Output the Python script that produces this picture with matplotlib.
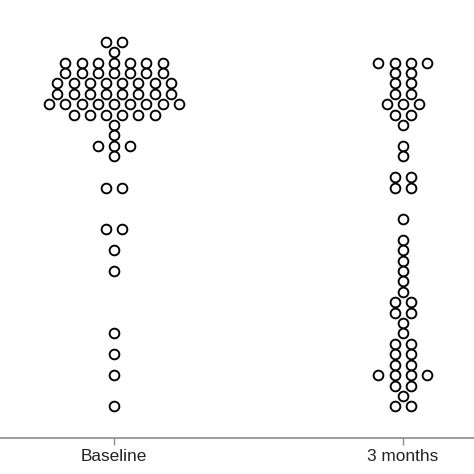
"""Beeswarm of scores at baseline and 3 months."""

import numpy as np
import matplotlib
matplotlib.use("Agg")
import matplotlib.pyplot as plt

# score values for each subject (one integer per point)
groups = ["Baseline", "3 months"]

baseline_scores = (
    [35] * 2 + [34] * 1 + [33] * 7 + [32] * 7 + [31] * 8 + [30] * 8 + [29] * 9
    + [28] * 6 + [27] * 1 + [26] * 1 + [25] * 3 + [24] * 1 + [21] * 2
    + [17] * 2 + [15] * 1 + [13] * 1 + [7] * 1 + [5] * 1 + [3] * 1 + [0] * 1
)

month3_scores = (
    [33] * 4 + [32] * 2 + [31] * 2 + [30] * 2 + [29] * 3 + [28] * 2 + [27] * 1
    + [25] * 1 + [24] * 1 + [22] * 2 + [21] * 2 + [18] * 1 + [16] * 1
    + [15] * 1 + [14] * 1 + [13] * 1 + [12] * 1 + [11] * 1 + [10] * 2
    + [9] * 2 + [8] * 1 + [7] * 1 + [6] * 2 + [5] * 2 + [4] * 2 + [3] * 4
    + [2] * 2 + [1] * 1 + [0] * 2
)

all_scores = [baseline_scores, month3_scores]


def swarm_center(values, spacing):
    """Place tied values side by side, centred on the group position."""
    values = np.asarray(values)
    xs = np.zeros(len(values), dtype=float)
    for v in np.unique(values):
        idx = np.where(values == v)[0]
        n = len(idx)
        xs[idx] = (np.arange(n) - (n - 1) / 2.0) * spacing
    return xs


plt.rcParams["font.family"] = ["Liberation Sans", "DejaVu Sans"]

fig = plt.figure(figsize=(4.74, 4.74), dpi=100)
ax = fig.add_axes([0.0, 0.0766, 1.0, 0.9234])

for i, scores in enumerate(all_scores):
    offsets = swarm_center(scores, 0.0561)
    ax.plot(
        i + offsets,
        scores,
        linestyle="none",
        marker="o",
        markersize=7.0,
        markerfacecolor="white",
        markeredgecolor="black",
        markeredgewidth=1.35,
    )

ax.set_xlim(-0.395, 1.247)
ax.set_ylim(-3.0, 39.0)

ax.set_xticks(range(len(groups)))
ax.set_xticklabels(groups, fontsize=12.4, color="#222222")
ax.set_yticks([])

for side in ["top", "left", "right"]:
    ax.spines[side].set_visible(False)
ax.spines["bottom"].set_color("#8a8a8a")
ax.spines["bottom"].set_linewidth(1.2)
ax.tick_params(axis="x", length=5, width=1.0, color="#8a8a8a", pad=3)
ax.patch.set_alpha(0)

fig.savefig("out.png", dpi=100)
